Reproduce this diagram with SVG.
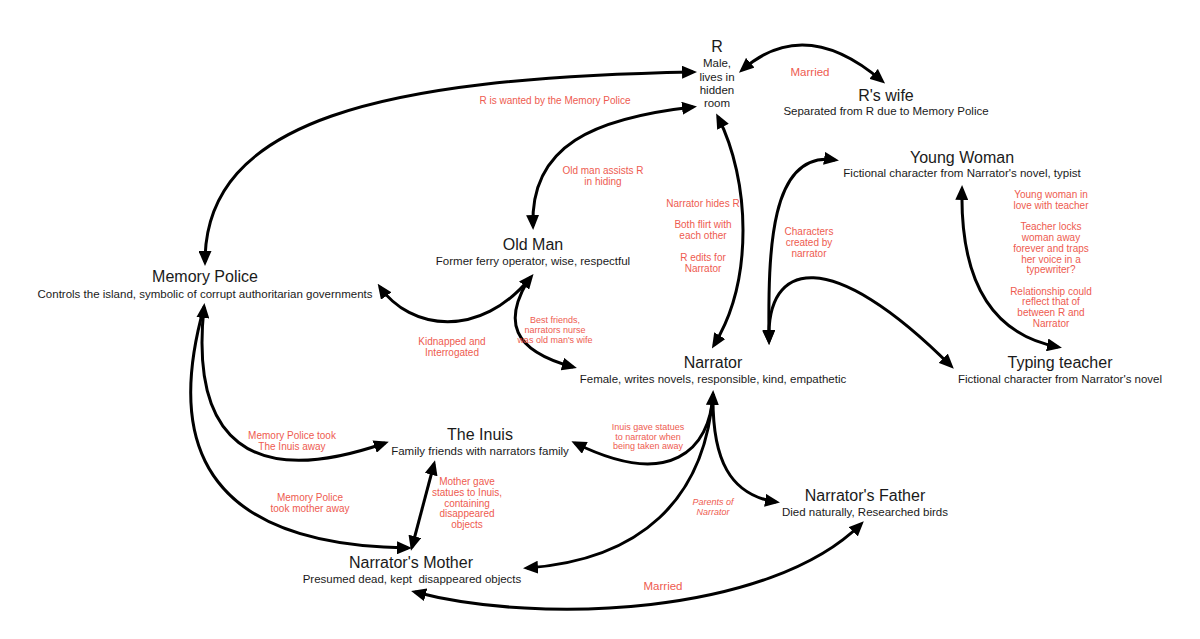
<svg xmlns="http://www.w3.org/2000/svg" width="1200" height="639" viewBox="0 0 1200 639">
<style>
text{font-family:"Liberation Sans",Arial,sans-serif;text-anchor:middle;white-space:pre}
.t{font-size:16px;fill:#1a1a1a}
.s{font-size:11.5px;fill:#1a1a1a}
.l{font-size:10px;fill:#ee5b50}
.ls{font-size:9px;fill:#ee5b50}
.lm{font-size:11.5px;fill:#ee5b50}
.c path{fill:none;stroke:#000;stroke-width:3}
.a{marker-end:url(#ah)}
.b{marker-start:url(#ah);marker-end:url(#ah)}
</style>
<defs>
<marker id="ah" markerUnits="userSpaceOnUse" markerWidth="15" markerHeight="13" refX="11" refY="6.5" orient="auto-start-reverse" viewBox="0 0 15 13">
<path d="M0,0 L15,6.5 L0,13 z" fill="#000"/>
</marker>
</defs>
<rect width="1200" height="639" fill="#fff"/>
<g class="c" id="connectors">
<path class="b" d="M205,262 C205,120 380,78 693,72"/>
<path class="b" d="M742,70 Q805,15 882,81"/>
<path class="b" d="M693,107 C595,118 530,145 533,226"/>
<path class="b" d="M718,117 C750,180 754,280 714,345"/>
<path class="b" d="M769,341 C768,250 770,150 835,160"/>
<path class="b" d="M769,341 C766,260 830,245 951,366"/>
<path class="b" d="M962,189 C960,285 995,335 1058,347"/>
<path class="b" d="M380,287 C410,330 480,340 531,277"/>
<path class="a" d="M527,282 C505,320 510,350 573,367"/>
<path class="b" d="M204,307 C190,440 250,490 385,443"/>
<path class="a" d="M204,307 C178,400 165,545 408,548"/>
<path class="b" d="M434,464 L412,547"/>
<path class="b" d="M713,394 C710,450 670,490 575,443"/>
<path class="a" d="M713,394 C705,500 640,560 527,568"/>
<path class="a" d="M713,394 C712,460 730,495 776,502"/>
<path class="b" d="M415,592 C540,625 770,615 861,524"/>
</g>
<g id="r"><text class="t" x="717" y="52">R</text><text class="s" x="717" y="67">Male,</text><text class="s" x="717" y="81">lives in</text><text class="s" x="717" y="94">hidden</text><text class="s" x="717" y="107">room</text></g>
<g id="rwife"><text class="t" x="886" y="101">R's wife</text><text class="s" x="886" y="115">Separated from R due to Memory Police</text></g>
<g id="youngwoman"><text class="t" x="962" y="163">Young Woman</text><text class="s" x="962" y="177">Fictional character from Narrator's novel, typist</text></g>
<g id="memorypolice"><text class="t" x="205" y="282">Memory Police</text><text class="s" x="205" y="298">Controls the island, symbolic of corrupt authoritarian governments</text></g>
<g id="oldman"><text class="t" x="533" y="250">Old Man</text><text class="s" x="533" y="265">Former ferry operator, wise, respectful</text></g>
<g id="narrator"><text class="t" x="713" y="368">Narrator</text><text class="s" x="713" y="383">Female, writes novels, responsible, kind, empathetic</text></g>
<g id="typingteacher"><text class="t" x="1060" y="368">Typing teacher</text><text class="s" x="1060" y="383">Fictional character from Narrator's novel</text></g>
<g id="inuis"><text class="t" x="480" y="440">The Inuis</text><text class="s" x="480" y="455">Family friends with narrators family</text></g>
<g id="father"><text class="t" x="865" y="501">Narrator's Father</text><text class="s" x="865" y="516">Died naturally, Researched birds</text></g>
<g id="mother"><text class="t" x="411" y="568">Narrator's Mother</text><text class="s" x="412" y="583">Presumed dead, kept  disappeared objects</text></g>
<g id="labels">
<text class="l" x="555" y="104">R is wanted by the Memory Police</text>
<text class="lm" x="810" y="76">Married</text>
<text class="l" x="603" y="174">Old man assists R</text>
<text class="l" x="603" y="185">in hiding</text>
<text class="l" x="703" y="207">Narrator hides R</text>
<text class="l" x="703" y="228">Both flirt with</text>
<text class="l" x="703" y="239">each other</text>
<text class="l" x="703" y="261">R edits for</text>
<text class="l" x="703" y="272">Narrator</text>
<text class="l" x="809" y="235">Characters</text>
<text class="l" x="809" y="246">created by</text>
<text class="l" x="809" y="257">narrator</text>
<text class="l" x="1051" y="198">Young woman in</text>
<text class="l" x="1051" y="209">love with teacher</text>
<text class="l" x="1051" y="230">Teacher locks</text>
<text class="l" x="1051" y="241">woman away</text>
<text class="l" x="1051" y="252">forever and traps</text>
<text class="l" x="1051" y="263">her voice in a</text>
<text class="l" x="1051" y="273">typewriter?</text>
<text class="l" x="1051" y="295">Relationship could</text>
<text class="l" x="1051" y="305">reflect that of</text>
<text class="l" x="1051" y="316">between R and</text>
<text class="l" x="1051" y="327">Narrator</text>
<text class="l" x="452" y="345">Kidnapped and</text>
<text class="l" x="452" y="356">Interrogated</text>
<text class="ls" x="555" y="323">Best friends,</text>
<text class="ls" x="555" y="333">narrators nurse</text>
<text class="ls" x="555" y="343">was old man's wife</text>
<text class="l" x="292" y="439">Memory Police took</text>
<text class="l" x="292" y="450">The Inuis away</text>
<text class="l" x="310" y="501">Memory Police</text>
<text class="l" x="310" y="512">took mother away</text>
<text class="ls" x="648" y="430">Inuis gave statues</text>
<text class="ls" x="648" y="440">to narrator when</text>
<text class="ls" x="648" y="449">being taken away</text>
<text class="l" x="467" y="485">Mother gave</text>
<text class="l" x="467" y="496">statues to Inuis,</text>
<text class="l" x="467" y="507">containing</text>
<text class="l" x="467" y="517">disappeared</text>
<text class="l" x="467" y="528">objects</text>
<text class="ls" x="713" y="505" font-style="italic">Parents of</text>
<text class="ls" x="713" y="515" font-style="italic">Narrator</text>
<text class="lm" x="663" y="590">Married</text>
</g>
</svg>
